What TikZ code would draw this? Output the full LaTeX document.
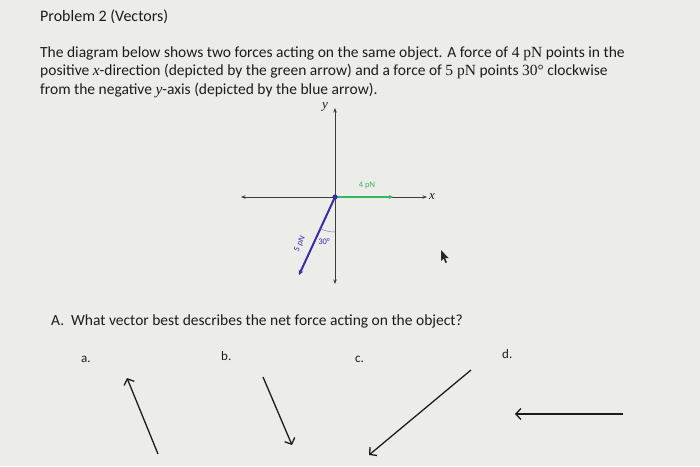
\documentclass[tikz,border=0pt]{standalone}
\usepackage{fontspec}
\setmainfont{Carlito}
\newfontfamily\cambria{Liberation Serif}
\usetikzlibrary{arrows.meta}
\definecolor{bg}{RGB}{236,236,233}
\definecolor{txt}{RGB}{28,28,28}
\definecolor{axisc}{RGB}{60,60,60}
\definecolor{fgreen}{RGB}{55,180,100}
\definecolor{fblue}{RGB}{55,45,170}
\tikzset{
  para/.style={anchor=base west, inner sep=0pt, text=txt, font=\fontsize{15.5}{18}\selectfont},
  lbl/.style={anchor=base west, inner sep=0pt, text=txt, font=\fontsize{13}{15}\selectfont},
  small/.style={inner sep=0pt, font=\fontsize{8.5}{9}\selectfont},
  axis/.style={draw=axisc, line width=0.8pt, -{Stealth[length=4.5pt,width=3.5pt]}},
  choice/.style={draw=txt, line width=1.3pt, -{Straight Barb[length=5pt,width=11pt]}},
}
\newcommand{\sv}[1]{{\cambria\itshape #1}}
\newcommand{\sn}[1]{{\cambria #1}}
\begin{document}
\begin{tikzpicture}[x=1pt,y=-1pt]
\fill[bg] (0,0) rectangle (700,466);
\useasboundingbox (0,0) rectangle (700,466);
% texts
\node[para, font=\fontsize{16}{18}\selectfont] (title) at (40,21) {Problem 2 (Vectors)};
\node[para] (l1) at (40,57) {The diagram below shows two forces acting on the same object. A force of \sn{4 pN} points in the};
\node[para] (l2) at (40,75) {positive \sv{x}-direction (depicted by the green arrow) and a force of \sn{5 pN} points \sn{30°} clockwise};
\node[para] (l3) at (40,94) {from the negative \sv{y}-axis (depicted by the blue arrow).};
% diagram
\coordinate (O) at (335,197);
\coordinate (xl) at (241,197);
\coordinate (xr) at (427,197);
\coordinate (yt) at (335,108);
\coordinate (yb) at (335,284);
\draw[axis] (O) -- (xl);
\draw[axis] (O) -- (xr);
\draw[axis] (O) -- (yt);
\draw[axis] (O) -- (yb);
\node[inner sep=0pt, text=txt, font=\fontsize{13}{13}\selectfont] (xlab) at (432,197) {\sv{x}};
\node[inner sep=0pt, text=txt, font=\fontsize{13}{13}\selectfont] (ylab) at (325,107) {\sv{y}};
\coordinate (G) at (393,197);
\draw[fgreen, line width=1.5pt, -{Stealth[length=4pt,width=4pt]}] (O) -- (G);
\node[small, text=fgreen] (g4) at (367,185) {4 pN};
\coordinate (B) at (299,275);
\draw[fblue, line width=2pt, -{Stealth[length=5pt,width=5pt]}] (O) -- (B);
\fill[fblue] (O) circle (2.6);
\node[small, text=fblue, rotate=65] (b5) at (300,244) {5 pN};
\draw[fblue!60, line width=0.5pt] ([shift={(90:35)}]O) arc[start angle=90, end angle=114.8, radius=35];
\node[small, text=fblue] (b30) at (324,242) {30°};
% cursor
\fill[black!85] (441,250) -- (441,261) -- (443.5,258.5) -- (445.5,263) -- (447,262.3) -- (445,258) -- (448.5,258) -- cycle;
% question
\node[para] (q) at (51,325) {A.\ \ What vector best describes the net force acting on the object?};
\node[lbl] (la) at (81,362) {a.};
\node[lbl] (lb) at (221,360) {b.};
\node[lbl] (lc) at (355,362) {c.};
\node[lbl] (ld) at (502,358) {d.};
\coordinate (a1) at (158,454);
\coordinate (a2) at (127,378);
\coordinate (b1) at (263,377);
\coordinate (b2) at (292,445);
\coordinate (c1) at (471,370);
\coordinate (c2) at (369,455);
\coordinate (d1) at (623,414);
\coordinate (d2) at (515,414);
\draw[choice] (a1) -- (a2);
\draw[choice] (b1) -- (b2);
\draw[choice] (c1) -- (c2);
\draw[choice] (d1) -- (d2);
\end{tikzpicture}
\end{document}
